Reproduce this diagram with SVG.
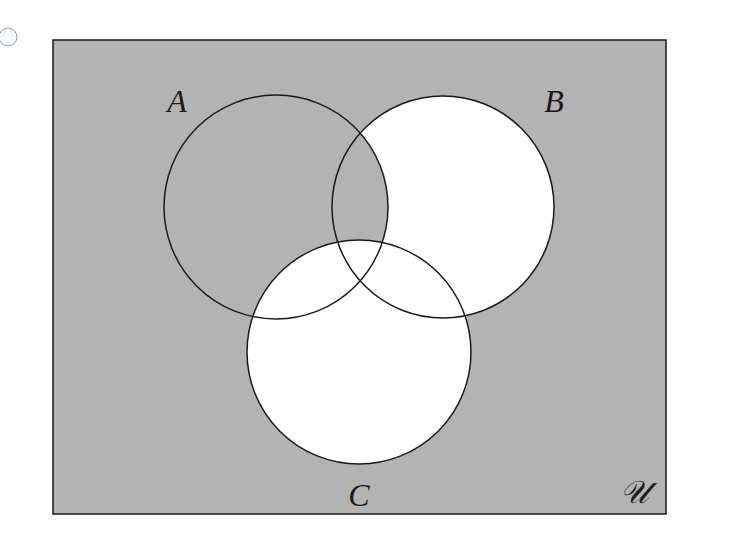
<svg xmlns="http://www.w3.org/2000/svg" width="735" height="538" viewBox="0 0 735 538">
<style>
.o{fill:none;stroke:#1a1a1a;stroke-width:1.5}
.l{font-family:"Liberation Serif",serif;font-style:italic;font-size:32px;fill:#1a1a1a;text-anchor:middle}
</style>
<defs><clipPath id="cb"><circle cx="443" cy="207" r="111"/></clipPath></defs>
<circle cx="8" cy="37" r="9" fill="#f5f9ff" stroke="#999" stroke-width="1"/>
<g id="universe"><rect x="53" y="40" width="613" height="474" fill="#b3b3b3" stroke="#1a1a1a" stroke-width="1.5"/></g>
<g id="fills">
<circle cx="443" cy="207" r="111" fill="#fff"/>
<circle cx="276" cy="207" r="112" fill="#b3b3b3" clip-path="url(#cb)"/>
<circle cx="359" cy="352" r="112" fill="#fff"/>
</g>
<g id="A"><circle class="o" cx="276" cy="207" r="112"/><text class="l" x="177" y="112">A</text></g>
<g id="B"><circle class="o" cx="443" cy="207" r="111"/><text class="l" x="554" y="112">B</text></g>
<g id="C"><circle class="o" cx="359" cy="352" r="112"/><text class="l" x="359" y="506">C</text></g>
<g id="U"><text class="l" x="634" y="503" font-size="30">𝒰</text></g>
<g id="connectors"/>
</svg>
